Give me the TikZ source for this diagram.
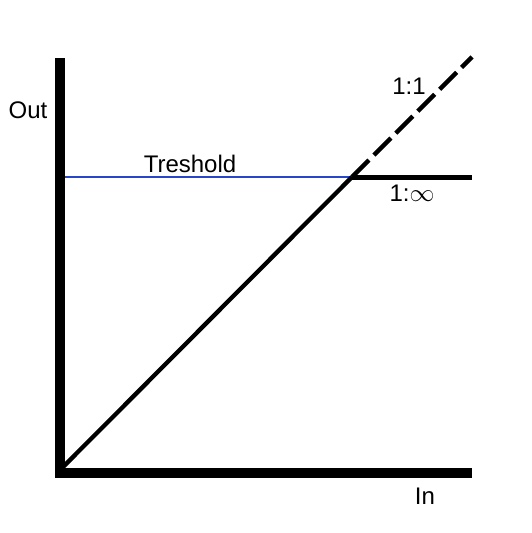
\documentclass[tikz,border=0pt]{standalone}
\usepackage{fontspec}
\setmainfont{Liberation Sans}
\definecolor{treshblue}{RGB}{40,70,200}

\begin{document}
\begin{tikzpicture}
  [x=1pt, y=-1pt,
   every node/.style={inner sep=0pt, font=\fontsize{24}{28}\selectfont},
   axisline/.style={line width=10pt, line cap=butt},
   transfer/.style={line width=4.3pt},
   limitline/.style={line width=5pt},
   treshline/.style={draw=treshblue, line width=1.5pt}]
  \useasboundingbox (0,0) rectangle (532,533);
  % axes
  \coordinate (top) at (60,58);
  \coordinate (origin) at (60,473);
  \coordinate (right) at (472,473);
  \draw[axisline] (top) -- (60,478);
  \draw[axisline] (55,473) -- (right);
  % curve
  \coordinate (base) at (62,468);
  \coordinate (knee) at (352,177);
  \coordinate (oneend) at (472,57);
  \coordinate (limend) at (472,177);
  \coordinate (tstart) at (65,177);
  \draw[treshline] (tstart) -- (knee);
  \draw[transfer] (base) -- (knee);
  \draw[transfer, dash pattern=on 24pt off 7pt] (knee) -- (oneend);
  \draw[limitline] (knee) -- (limend);
  % labels
  \node (out) at (28,110) {Out};
  \node (in) at (425,496) {In};
  \node (tresh) at (190,164) {Treshold};
  \node (oneone) at (409,86) {1:1};
  \node (oneinf) at (412,193) {1:$\infty$};
\end{tikzpicture}
\end{document}
